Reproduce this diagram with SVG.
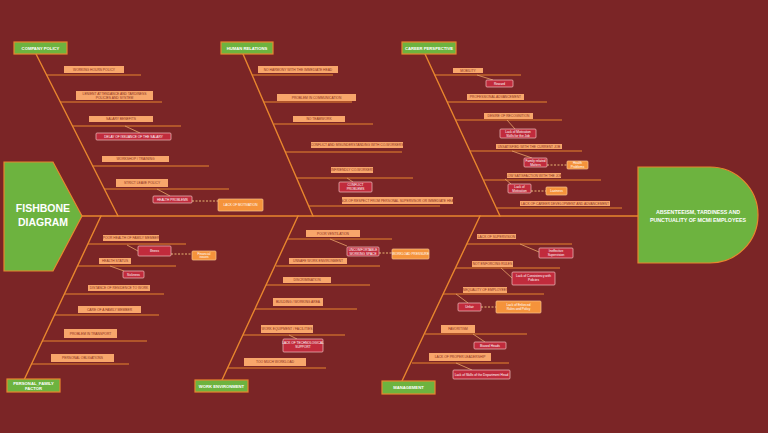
<svg xmlns="http://www.w3.org/2000/svg" width="768" height="433" viewBox="0 0 768 433">
<style>
.bone{stroke:#E8862E;stroke-width:1.4;fill:none;stroke-linecap:round}
.br{stroke:#E8862E;stroke-width:1.2;fill:none}
.lk{stroke:#E9A46A;stroke-width:0.8;fill:none}
.ds{stroke:#F6C77E;stroke-width:0.9;fill:none;stroke-dasharray:2 1.5}
.lbl rect{fill:#F8A66B}
.lbl text{fill:#8A2E1E;font-family:"Liberation Sans",Arial,sans-serif;font-size:3.3px;text-anchor:middle}
.red rect{fill:#C12B3C;stroke:#F0BFC0;stroke-width:0.7}
.red text{fill:#FFFFFF;font-family:"Liberation Sans",Arial,sans-serif;font-size:3.2px;text-anchor:middle}
.org rect{fill:#F5933B;stroke:#F9C48E;stroke-width:0.7}
.org text{fill:#FFFFFF;font-family:"Liberation Sans",Arial,sans-serif;font-size:3.2px;text-anchor:middle}
.cat rect{fill:#6DB33F;stroke:#E8862E;stroke-width:1.2}
.cat text{fill:#FFFFFF;font-family:"Liberation Sans",Arial,sans-serif;font-size:4.2px;font-weight:bold;text-anchor:middle}
.head text{fill:#FFFFFF;font-family:"Liberation Sans",Arial,sans-serif;font-weight:bold;text-anchor:middle}
</style>
<rect width="768" height="433" fill="#7B2526"/>

<g id="connectors">
<line class="bone" x1="80" y1="216" x2="640" y2="216"/>
<line class="bone" x1="36" y1="54" x2="118" y2="216"/>
<line class="bone" x1="243" y1="54" x2="313" y2="216"/>
<line class="bone" x1="425" y1="54" x2="500" y2="216"/>
<line class="bone" x1="101" y1="216" x2="24" y2="380"/>
<line class="bone" x1="298" y1="216" x2="222" y2="380"/>
<line class="bone" x1="480" y1="216" x2="402" y2="381"/>
<!-- company policy -->
<line class="br" x1="46" y1="75" x2="141" y2="75"/>
<line class="br" x1="60" y1="102" x2="162" y2="102"/>
<line class="br" x1="72" y1="126" x2="181" y2="126"/>
<line class="br" x1="92" y1="166" x2="209" y2="166"/>
<line class="br" x1="104" y1="189" x2="229" y2="189"/>
<line class="lk" x1="125" y1="126" x2="140" y2="133"/>
<line class="lk" x1="157" y1="189" x2="170" y2="196"/>
<line class="ds" x1="192" y1="201" x2="218" y2="201"/>
<!-- human relations -->
<line class="br" x1="252" y1="75" x2="333" y2="75"/>
<line class="br" x1="264" y1="102" x2="352" y2="102"/>
<line class="br" x1="274" y1="124" x2="373" y2="124"/>
<line class="br" x1="285" y1="152" x2="402" y2="152"/>
<line class="br" x1="296" y1="178" x2="413" y2="178"/>
<line class="br" x1="309" y1="206" x2="440" y2="206"/>
<line class="lk" x1="347" y1="178" x2="353" y2="182"/>
<!-- career perspective -->
<line class="br" x1="434" y1="75" x2="521" y2="75"/>
<line class="br" x1="447" y1="102" x2="547" y2="102"/>
<line class="br" x1="456" y1="120" x2="562" y2="120"/>
<line class="br" x1="470" y1="151" x2="582" y2="151"/>
<line class="br" x1="484" y1="180" x2="601" y2="180"/>
<line class="br" x1="497" y1="208" x2="622" y2="208"/>
<line class="lk" x1="477" y1="75" x2="493" y2="80"/>
<line class="lk" x1="507" y1="120" x2="515" y2="129"/>
<line class="lk" x1="512" y1="151" x2="532" y2="158"/>
<line class="lk" x1="505" y1="179" x2="511" y2="184"/>
<line class="ds" x1="547" y1="165" x2="567" y2="165"/>
<line class="ds" x1="531" y1="191" x2="546" y2="191"/>
<!-- personal family -->
<line class="br" x1="88" y1="244" x2="186" y2="244"/>
<line class="br" x1="77" y1="266" x2="176" y2="266"/>
<line class="br" x1="64" y1="294" x2="164" y2="294"/>
<line class="br" x1="54" y1="315" x2="159" y2="315"/>
<line class="br" x1="42" y1="341" x2="147" y2="341"/>
<line class="br" x1="31" y1="364" x2="129" y2="364"/>
<line class="lk" x1="127" y1="245" x2="138" y2="251"/>
<line class="lk" x1="110" y1="266" x2="124" y2="271"/>
<line class="ds" x1="171" y1="254" x2="192" y2="254"/>
<!-- work environment -->
<line class="br" x1="287" y1="239" x2="392" y2="239"/>
<line class="br" x1="276" y1="266" x2="380" y2="266"/>
<line class="br" x1="266" y1="285" x2="370" y2="285"/>
<line class="br" x1="255" y1="309" x2="357" y2="309"/>
<line class="br" x1="243" y1="335" x2="345" y2="335"/>
<line class="br" x1="228" y1="368" x2="326" y2="368"/>
<line class="lk" x1="330" y1="239" x2="347" y2="246"/>
<line class="lk" x1="289" y1="335" x2="297" y2="339"/>
<line class="ds" x1="379" y1="253" x2="392" y2="253"/>
<!-- management -->
<line class="br" x1="467" y1="244" x2="572" y2="244"/>
<line class="br" x1="455" y1="268" x2="560" y2="268"/>
<line class="br" x1="443" y1="294" x2="544" y2="294"/>
<line class="br" x1="425" y1="334" x2="527" y2="334"/>
<line class="br" x1="412" y1="363" x2="509" y2="363"/>
<line class="lk" x1="520" y1="244" x2="539" y2="252"/>
<line class="lk" x1="501" y1="268" x2="512" y2="278"/>
<line class="lk" x1="456" y1="294" x2="468" y2="303"/>
<line class="lk" x1="473" y1="334" x2="485" y2="342"/>
<line class="lk" x1="456" y1="363" x2="472" y2="370"/>
<line class="ds" x1="481" y1="307" x2="496" y2="307"/>
</g>

<g id="head-fishbone" class="head">
<path d="M4,162 H53 L82,216 L53,271 H4 Z" fill="#6DB33F" stroke="#E8862E" stroke-width="1.2"/>
<text x="43" y="212" font-size="10.5">FISHBONE</text>
<text x="43" y="226" font-size="10.5">DIAGRAM</text>
</g>
<g id="head-problem" class="head">
<path d="M638,167 H710 A48,48 0 0 1 710,263 H638 Z" fill="#6DB33F" stroke="#E8862E" stroke-width="1.2"/>
<text x="698" y="214" font-size="5.3">ABSENTEEISM, TARDINESS AND</text>
<text x="698" y="221.5" font-size="5.3">PUNCTUALITY OF MCMI EMPLOYEES</text>
</g>

<g id="cat-company" class="cat"><rect x="14" y="42" width="53" height="12"/><text x="40.5" y="49.5">COMPANY POLICY</text></g>
<g id="cat-human" class="cat"><rect x="221" y="42" width="52" height="12"/><text x="247" y="49.5">HUMAN RELATIONS</text></g>
<g id="cat-career" class="cat"><rect x="402" y="42" width="54" height="12"/><text x="429" y="49.5">CAREER PERSPECTIVE</text></g>
<g id="cat-personal" class="cat"><rect x="7" y="379" width="53" height="13"/><text x="33.5" y="384.5">PERSONAL_FAMILY</text><text x="33.5" y="389.5">FACTOR</text></g>
<g id="cat-work" class="cat"><rect x="195" y="380" width="53" height="12"/><text x="221.5" y="387.5">WORK ENVIRONMENT</text></g>
<g id="cat-management" class="cat"><rect x="382" y="381" width="53" height="13"/><text x="408.5" y="389">MANAGEMENT</text></g>

<!-- company policy causes -->
<g id="cp1" class="lbl"><rect x="64" y="66" width="60" height="7"/><text x="94" y="70.6">WORKING HOURS POLICY</text></g>
<g id="cp2" class="lbl"><rect x="76" y="91" width="77" height="9"/><text x="114.5" y="94.8">LENIENT ATTENDANCE AND TARDINESS</text><text x="114.5" y="98.6">POLICIES AND SYSTEM</text></g>
<g id="cp3" class="lbl"><rect x="89" y="116" width="64" height="6"/><text x="121" y="120.1">SALARY BENEFITS</text></g>
<g id="cp3a" class="red"><rect x="96" y="133" width="75" height="7" rx="1"/><text x="133.5" y="137.6">DELAY OF ISSUANCE OF THE SALARY</text></g>
<g id="cp4" class="lbl"><rect x="102" y="156" width="67" height="6"/><text x="135.5" y="160.1">WORKSHOP / TRAINING</text></g>
<g id="cp5" class="lbl"><rect x="116" y="179" width="52" height="8"/><text x="142" y="184.1">STRICT LEAVE POLICY</text></g>
<g id="cp5a" class="red"><rect x="153" y="196" width="39" height="7" rx="1"/><text x="172.5" y="200.6">HEALTH PROBLEMS</text></g>
<g id="cp5b" class="org"><rect x="218" y="199" width="45" height="12" rx="1"/><text x="240.5" y="206.1">LACK OF MOTIVATION</text></g>

<!-- human relations causes -->
<g id="hr1" class="lbl"><rect x="258" y="66" width="80" height="7"/><text x="298" y="70.6">NO HARMONY WITH THE IMMEDIATE HEAD</text></g>
<g id="hr2" class="lbl"><rect x="277" y="94" width="79" height="7"/><text x="316.5" y="98.6">PROBLEM IN COMMUNICATION</text></g>
<g id="hr3" class="lbl"><rect x="293" y="116" width="52" height="6"/><text x="319" y="120.1">NO TEAMWORK</text></g>
<g id="hr4" class="lbl"><rect x="311" y="142" width="92" height="6"/><text x="357" y="146.1">CONFLICT AND MISUNDERSTANDING WITH CO-WORKERS</text></g>
<g id="hr5" class="lbl"><rect x="331" y="167" width="42" height="6"/><text x="352" y="171.1">UNFRIENDLY CO-WORKERS</text></g>
<g id="hr5a" class="red"><rect x="339" y="182" width="33" height="10" rx="1"/><text x="355.5" y="186.3">CONFLICT</text><text x="355.5" y="190">PROBLEMS</text></g>
<g id="hr6" class="lbl"><rect x="342" y="197" width="111" height="7"/><text x="397.5" y="201.6">LACK OF RESPECT FROM PERSONAL SUPERVISOR OR IMMEDIATE HEAD</text></g>

<!-- career perspective causes -->
<g id="ca1" class="lbl"><rect x="453" y="68" width="30" height="5"/><text x="468" y="71.6">MOBILITY</text></g>
<g id="ca1a" class="red"><rect x="486" y="80" width="27" height="7" rx="1"/><text x="499.5" y="84.6">Reward</text></g>
<g id="ca2" class="lbl"><rect x="467" y="94" width="57" height="6"/><text x="495.5" y="98.1">PROFESSIONAL ADVANCEMENT</text></g>
<g id="ca3" class="lbl"><rect x="484" y="113" width="49" height="6"/><text x="508.5" y="117.1">DESIRE OF RECOGNITION</text></g>
<g id="ca3a" class="red"><rect x="500" y="129" width="36" height="9" rx="1"/><text x="518" y="132.9">Lack of Motivation</text><text x="518" y="136.5">Skills for the Job</text></g>
<g id="ca4" class="lbl"><rect x="496" y="144" width="66" height="5"/><text x="529" y="147.6">UNSATISFIED WITH THE CURRENT JOB</text></g>
<g id="ca4a" class="red"><rect x="524" y="158" width="23" height="9" rx="1"/><text x="535.5" y="161.9">Family related</text><text x="535.5" y="165.5">Matters</text></g>
<g id="ca4b" class="org"><rect x="567" y="161" width="21" height="8" rx="1"/><text x="577.5" y="164.3">Health</text><text x="577.5" y="167.8">Problems</text></g>
<g id="ca5" class="lbl"><rect x="507" y="173" width="54" height="5"/><text x="534" y="176.6">LOW SATISFACTION WITH THE JOB</text></g>
<g id="ca5a" class="red"><rect x="508" y="184" width="23" height="9" rx="1"/><text x="519.5" y="187.9">Lack of</text><text x="519.5" y="191.5">Motivation</text></g>
<g id="ca5b" class="org"><rect x="546" y="187" width="21" height="8" rx="1"/><text x="556.5" y="192.1">Laziness</text></g>
<g id="ca6" class="lbl"><rect x="520" y="201" width="90" height="5"/><text x="565" y="204.6">LACK OF CAREER DEVELOPMENT AND ADVANCEMENT</text></g>

<!-- personal family causes -->
<g id="pf1" class="lbl"><rect x="103" y="235" width="56" height="6"/><text x="131" y="239.1">POOR HEALTH OF FAMILY MEMBER</text></g>
<g id="pf1a" class="red"><rect x="138" y="246" width="33" height="10" rx="1"/><text x="154.5" y="252.1">Illness</text></g>
<g id="pf1b" class="org"><rect x="192" y="251" width="24" height="9" rx="1"/><text x="204" y="254.8">Financial</text><text x="204" y="258.4">issues</text></g>
<g id="pf2" class="lbl"><rect x="99" y="258" width="32" height="6"/><text x="115" y="262.1">HEALTH STATUS</text></g>
<g id="pf2a" class="red"><rect x="123" y="271" width="21" height="7" rx="1"/><text x="133.5" y="275.6">Sickness</text></g>
<g id="pf3" class="lbl"><rect x="88" y="285" width="62" height="6"/><text x="119" y="289.1">DISTANCE OF RESIDENCE TO WORK</text></g>
<g id="pf4" class="lbl"><rect x="78" y="306" width="63" height="7"/><text x="109.5" y="310.6">CARE OF A FAMILY MEMBER</text></g>
<g id="pf5" class="lbl"><rect x="64" y="329" width="53" height="9"/><text x="90.5" y="334.6">PROBLEM IN TRANSPORT</text></g>
<g id="pf6" class="lbl"><rect x="51" y="354" width="63" height="8"/><text x="82.5" y="359.1">PERSONAL OBLIGATIONS</text></g>

<!-- work environment causes -->
<g id="we1" class="lbl"><rect x="306" y="230" width="54" height="7"/><text x="333" y="234.6">POOR VENTILATION</text></g>
<g id="we1a" class="red"><rect x="347" y="247" width="32" height="9" rx="1"/><text x="363" y="250.9">UNCOMFORTABLE</text><text x="363" y="254.5">WORKING SPACE</text></g>
<g id="we1b" class="org"><rect x="392" y="249" width="37" height="10" rx="1"/><text x="410.5" y="255.1">WORKLOAD PRESSURE</text></g>
<g id="we2" class="lbl"><rect x="289" y="258" width="58" height="6"/><text x="318" y="262.1">UNSAFE WORK ENVIRONMENT</text></g>
<g id="we3" class="lbl"><rect x="283" y="277" width="48" height="6"/><text x="307" y="281.1">DISCRIMINATION</text></g>
<g id="we4" class="lbl"><rect x="273" y="298" width="50" height="8"/><text x="298" y="303.1">BUILDING / WORKING AREA</text></g>
<g id="we5" class="lbl"><rect x="261" y="325" width="52" height="8"/><text x="287" y="330.1">WORK EQUIPMENT / FACILITIES</text></g>
<g id="we5a" class="red"><rect x="283" y="339" width="40" height="13" rx="1"/><text x="303" y="344.4">LACK OF TECHNOLOGICAL</text><text x="303" y="348.4">SUPPORT</text></g>
<g id="we6" class="lbl"><rect x="244" y="358" width="62" height="8"/><text x="275" y="363.1">TOO MUCH WORKLOAD</text></g>

<!-- management causes -->
<g id="mg1" class="lbl"><rect x="477" y="234" width="39" height="5"/><text x="496.5" y="237.6">LACK OF SUPERVISION</text></g>
<g id="mg1a" class="red"><rect x="539" y="248" width="34" height="10" rx="1"/><text x="556" y="252.3">Ineffective</text><text x="556" y="256">Supervision</text></g>
<g id="mg2" class="lbl"><rect x="472" y="261" width="41" height="6"/><text x="492.5" y="265.1">NOT ENFORCING RULES</text></g>
<g id="mg2a" class="red"><rect x="512" y="272" width="43" height="13" rx="1"/><text x="533.5" y="277.4">Lack of Consistency with</text><text x="533.5" y="281.4">Policies</text></g>
<g id="mg3" class="lbl"><rect x="463" y="287" width="44" height="6"/><text x="485" y="291.1">INEQUALITY OF EMPLOYEES</text></g>
<g id="mg3a" class="red"><rect x="458" y="303" width="23" height="8" rx="1"/><text x="469.5" y="308.1">Unfair</text></g>
<g id="mg3b" class="org"><rect x="496" y="301" width="45" height="12" rx="1"/><text x="518.5" y="306.2">Lack of Enforced</text><text x="518.5" y="310">Rules and Policy</text></g>
<g id="mg4" class="lbl"><rect x="441" y="325" width="34" height="8"/><text x="458" y="330.1">FAVORITISM</text></g>
<g id="mg4a" class="red"><rect x="474" y="342" width="32" height="7" rx="1"/><text x="490" y="346.6">Biased Heads</text></g>
<g id="mg5" class="lbl"><rect x="429" y="353" width="62" height="8"/><text x="460" y="358.1">LACK OF PROPER LEADERSHIP</text></g>
<g id="mg5a" class="red"><rect x="453" y="370" width="57" height="9" rx="1"/><text x="481.5" y="375.6">Lack of Skills of the Department Head</text></g>
</svg>
